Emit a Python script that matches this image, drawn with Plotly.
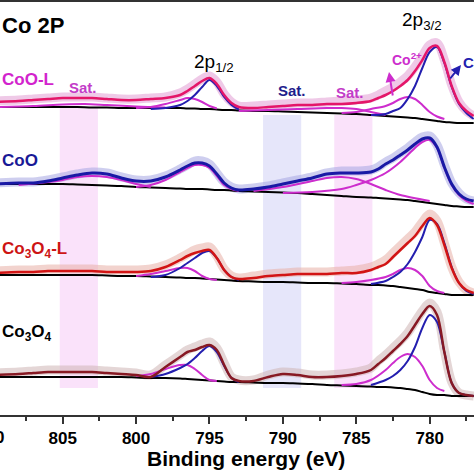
import plotly.graph_objects as go

# ---------------- data (binding energy in eV, intensity in arbitrary units) ----------------
energy = [809.5, 808, 807, 806, 805, 804, 803, 802, 801, 800, 799, 798, 797, 796.5, 796, 795.5,
          795, 794.5, 794, 793.5, 793, 792, 791, 790, 789, 788, 787, 786, 785, 784, 783.5, 783,
          782.5, 782, 781.5, 781, 780.5, 780, 779.5, 779, 778.5, 778, 777.5, 777]

# CoO-L
cool_raw = [314, 315, 316, 317, 318, 318, 318, 317, 316, 316, 317, 318, 322, 326, 331, 336, 339, 333, 321, 313,
            309, 309, 310, 311, 312, 312, 313, 314, 315, 317, 320, 324, 328, 333, 339, 348, 359, 370, 372, 355,
            330, 313, 304, 299]
cool_fit = [313, 314, 315, 316, 317, 317, 317, 316, 315, 315, 316, 317, 320, 324, 329, 334, 337, 331, 320, 312,
            308, 307, 308, 309, 310, 310, 311, 311, 312, 314, 317, 320, 324, 329, 335, 344, 355, 367, 369, 353,
            329, 312, 304, 299]
cool_bg = [308, 308, 308, 308, 308, 308, 307.5, 307.5, 307, 307, 307, 307, 307, 306.5, 306.5, 306, 306, 305.5,
           305, 305, 304.5, 304, 304, 303.5, 303, 302.5, 302, 301.5, 301, 300, 299.5, 299, 298.5, 298, 297.5,
           297, 296, 295, 294, 293, 292.5, 292, 292, 292]

# CoO
coo_raw = [232, 233, 233, 235, 238, 241, 243, 242, 238, 235, 235, 239, 246, 250, 254, 254, 251, 242, 233, 228,
           226, 227, 229, 232, 235, 238, 242, 244, 244, 245, 248, 253, 257, 262, 267, 273, 278, 279, 270, 250,
           232, 222, 216, 214]
coo_fit = [231, 232, 232, 234, 237, 240, 242, 241, 237, 234, 234, 238, 245, 249, 252, 252, 249, 241, 232, 227,
           225, 226, 228, 231, 234, 237, 241, 242, 242, 243, 246, 251, 255, 260, 265, 271, 276, 277, 268, 248,
           231, 221, 216, 214]
coo_bg = [231, 231, 231, 231, 231, 230.5, 230, 229.5, 229, 228, 227.5, 227, 226.5, 226, 226, 226, 225.5, 225,
          225, 224.5, 224, 223.5, 223, 222.5, 222, 221, 220, 219, 218, 217.5, 217, 216.5, 216, 215.5, 215, 214,
          213, 212, 211, 210, 209, 208.5, 208, 208]

# Co3O4-L
c34l_raw = [144, 145, 145, 146, 146, 146, 146, 145, 145, 145, 146, 150, 157, 161, 165, 167, 168, 159, 146, 139,
            137, 139, 141, 142, 143, 143, 143, 144, 145, 148, 151, 155, 162, 169, 176, 183, 193, 201, 194, 172,
            148, 133, 125, 122]
c34l_fit = [142, 143, 143, 144, 144, 144, 144, 143, 143, 143, 144, 148, 155, 159, 162, 164, 165, 157, 145, 138,
            136, 137, 139, 140, 141, 141, 141, 142, 142, 145, 148, 151, 158, 165, 172, 179, 189, 197, 190, 170,
            147, 132, 125, 122]
c34l_bg = [140, 140, 140, 140, 140, 140, 140, 139.5, 139, 139, 138.5, 138, 137.5, 137, 137, 136.5, 136, 135.5,
           135, 134.5, 134, 133.5, 133, 133, 132.5, 132, 132, 131.5, 131, 130, 130, 129.5, 129, 128, 127, 126,
           125, 123, 122, 121, 120, 120, 120, 120]

# Co3O4
c34_raw = [42, 43, 44, 45, 45, 45, 45, 44, 43, 42, 40, 50, 60, 65, 68, 71, 73, 67, 52, 38,
           35, 35, 40, 43, 42, 40, 40, 41, 43, 47, 54, 60, 67, 74, 82, 93, 104, 112, 103, 65,
           33, 22, 20, 19]
c34_fit = [40, 41, 42, 43, 43, 43, 43, 42, 41, 40, 38, 48, 58, 63, 65, 68, 70, 65, 50, 37,
           34, 34, 38, 41, 40, 38, 38, 39, 41, 45, 51, 57, 64, 71, 79, 90, 101, 109, 100, 63,
           32, 22, 20, 19]
c34_bg = [38, 38, 38, 38, 38, 38, 38, 38, 38, 37.5, 37, 37, 36.5, 36, 35.5, 35, 34.5, 34, 33.5, 33, 33, 32.5,
          32, 32, 31.5, 31, 30, 29.5, 29, 28.5, 28, 28, 27.5, 27, 26, 25, 23, 21, 20, 20, 19, 19, 19, 19]

# fitted components: Co3+ (blue) and Co2+ (magenta)
e_p12_co3 = [799, 798, 797, 796.5, 796, 795.5, 795, 794.5, 794, 793.5, 793]
e_p12_co2 = [800, 799, 798, 797, 796.5, 796, 795.5, 795, 794.5]
e_p32_co3 = [784, 783, 782.5, 782, 781.5, 781, 780.5, 780, 779.5, 779, 778.5, 778, 777.5, 777]
e_p32_co2 = [786, 785, 784, 783, 782.5, 782, 781.5, 781, 780.5, 780, 779.5, 779]

cool_co3_p12 = [306, 307, 310, 314, 320, 328, 335, 329, 318, 310, 305.5]
cool_co2_p12 = [307, 308, 311, 315, 317, 316, 313, 309, 306.5]
cool_co3_p32 = [300, 301, 304, 307, 316, 329, 347, 363, 368, 352, 328, 311, 302, 296]
cool_co2_p32 = [302, 303, 306, 309, 312, 316, 318, 316, 310, 303, 298.5, 296]
e_cool_sat = [809.5, 807, 805, 803.5, 802, 800, 798]
cool_sat_a = [308, 309, 310.5, 311, 310, 308.5, 307.5]
e_cool_sat2 = [793, 791, 789, 787, 786, 785, 784, 783]
cool_sat_b = [304, 305, 306, 307, 307, 306, 303, 300]

e_coo_p12 = [800, 799, 798, 797, 796.5, 796, 795.5, 795, 794.5, 794, 793.5, 793]
coo_co2_p12 = [228, 230, 235, 243, 247, 250, 250, 247, 239, 230, 226, 224]
e_coo_sat1 = [808, 806, 805, 804, 803, 802, 801, 800, 799]
coo_sat1 = [230, 233, 235, 238, 239, 238, 235, 231, 228]
e_coo_p32 = [790, 788, 786, 785, 784, 783, 782, 781, 780.5, 780, 779.5, 779, 778.5, 778, 777.5, 777]
coo_co2_p32 = [222, 223, 226, 230, 235, 242, 253, 267, 273, 275, 267, 247, 230, 220, 214, 211]
e_coo_sat2 = [792, 790, 788, 787, 786, 785, 784, 783, 782, 780]
coo_sat2 = [224, 228, 234, 237, 238, 236, 231, 225, 220, 214]

c34l_co3_p12 = [138, 140, 147, 152, 157, 162, 164, 157, 145, 138, 135]
c34l_co2_p12 = [139, 141, 144, 147, 147, 144, 139, 136, 135]
c34l_co3_p32 = [131, 134, 138, 143, 151, 163, 178, 195, 191, 172, 148, 132, 124, 121]
c34l_co2_p32 = [132, 133, 135, 138, 141, 145, 147, 145, 139, 129, 124, 122]

c34_co3_p12 = [38, 41, 47, 51, 57, 64, 69, 63, 49, 37, 33]
c34_co2_p12 = [39, 41, 46, 50, 50, 46, 40, 35, 34]
c34_co3_p32 = [30, 35, 39, 45, 54, 68, 87, 100, 93, 63, 32, 22, 20, 19]
c34_co2_p32 = [30, 31, 35, 45, 52, 58, 61, 58, 49, 35, 27, 24]

# satellite regions (eV)
sat_bands = [(805.2, 802.6), (791.35, 788.75), (786.5, 783.9)]
band_colors = ["rgb(250,226,250)", "rgb(230,230,250)", "rgb(250,226,250)"]
band_tops = [307, 300, 300]

x_ticks = [805, 800, 795, 790, 785, 780]

# ---------------- colours ----------------
MAG = "rgb(205,45,205)"
BLU = "rgb(35,30,175)"

fig = go.Figure()


def line(x, y, color, width, smooth=0.9):
    fig.add_trace(go.Scatter(x=x, y=y, mode="lines",
                             line=dict(color=color, width=width, shape="spline", smoothing=smooth),
                             hoverinfo="skip", showlegend=False))


# raw data bands
line(energy, cool_raw, "rgba(228,165,215,0.6)", 9)
line(energy, coo_raw, "rgba(165,165,225,0.55)", 9)
line(energy, c34l_raw, "rgba(232,175,165,0.55)", 9)
line(energy, c34_raw, "rgba(205,180,180,0.55)", 9)

# backgrounds
for bg in (cool_bg, coo_bg, c34l_bg, c34_bg):
    line(energy, bg, "black", 2)

# components
line(e_cool_sat, cool_sat_a, MAG, 2)
line(e_cool_sat2, cool_sat_b, MAG, 2)
line(e_p12_co2, cool_co2_p12, MAG, 2)
line(e_p32_co2, cool_co2_p32, MAG, 2)
line(e_p12_co3, cool_co3_p12, BLU, 2)
line(e_p32_co3, cool_co3_p32, BLU, 2)

line(e_coo_sat1, coo_sat1, MAG, 2)
line(e_coo_sat2, coo_sat2, MAG, 2)
line(e_coo_p12, coo_co2_p12, MAG, 2)
line(e_coo_p32, coo_co2_p32, MAG, 2)

line(e_p12_co2, c34l_co2_p12, MAG, 2)
line(e_p32_co2, c34l_co2_p32, MAG, 2)
line(e_p12_co3, c34l_co3_p12, BLU, 2)
line(e_p32_co3, c34l_co3_p32, BLU, 2)

line(e_p12_co2, c34_co2_p12, MAG, 2)
line(e_p32_co2, c34_co2_p32, MAG, 2)
line(e_p12_co3, c34_co3_p12, BLU, 2)
line(e_p32_co3, c34_co3_p32, BLU, 2)

# envelopes
line(energy, cool_fit, "rgb(228,22,105)", 2.5)
line(energy, coo_fit, "rgb(25,25,165)", 3)
line(energy, c34l_fit, "rgb(210,20,20)", 2.5)
line(energy, c34_fit, "rgb(135,25,35)", 2.5)

shapes = []
for (e1, e2), col, top in zip(sat_bands, band_colors, band_tops):
    shapes.append(dict(type="rect", xref="x", yref="y", x0=e1, x1=e2, y0=27, y1=top,
                       fillcolor=col, line=dict(width=0), layer="below"))

FONT = "Arial, Liberation Sans, sans-serif"


def txt(s, x, y, size, color="black", bold=True, xanchor="center"):
    return dict(text=s, x=x, y=y, xref="paper", yref="paper", showarrow=False, xanchor=xanchor,
                yanchor="middle", font=dict(family=FONT, size=size, color=color,
                                            weight="bold" if bold else "normal"))


H = 413.0


def py(p):
    return (415 - p) / H


def px(p):
    return p / 474.0


annotations = [
    txt("Co 2P", 0, py(25), 22, xanchor="left"),
    txt("CoO-L", 0, py(80), 17, "rgb(210,35,205)", xanchor="left"),
    txt("CoO", 0, py(160), 17, "rgb(25,25,150)", xanchor="left"),
    txt("Co<sub>3</sub>O<sub>4</sub>-L", 0, py(250), 17, "rgb(205,20,20)", xanchor="left"),
    txt("Co<sub>3</sub>O<sub>4</sub>", 0, py(333), 17, "black", xanchor="left"),
    txt("2p<sub>1/2</sub>", px(214), py(63), 19, bold=False),
    txt("2p<sub>3/2</sub>", px(422), py(21), 19, bold=False),
    txt("Sat.", px(83), py(88), 15, "rgb(195,60,200)"),
    txt("Sat.", px(292), py(90), 15, "rgb(30,30,140)"),
    txt("Sat.", px(350), py(92), 15, "rgb(195,60,200)"),
    txt("Co<sup>2+</sup>", px(407), py(59), 14, "rgb(205,45,205)"),
    txt("Co<sup>3+</sup>", px(461), py(62), 15, BLU, xanchor="left"),
    txt("810", px(-10), py(437), 17),
    txt("Binding energy (eV)", px(246), py(458), 21),
    dict(x=px(389), y=py(72), xref="paper", yref="paper", text="", showarrow=True, ax=4, ay=25,
         arrowhead=2, arrowsize=1, arrowwidth=2, arrowcolor="rgb(205,45,205)"),
    dict(x=px(461), y=py(65), xref="paper", yref="paper", text="", showarrow=True, ax=-12, ay=15,
         arrowhead=2, arrowsize=1, arrowwidth=2, arrowcolor=BLU),
]

fig.update_layout(
    width=474, height=474,
    margin=dict(l=0, r=0, t=2, b=59),
    paper_bgcolor="white", plot_bgcolor="white",
    shapes=shapes, annotations=annotations,
    xaxis=dict(range=[809.27, 776.98], tickvals=x_ticks, ticks="outside", ticklen=7, tickwidth=2,
               tickcolor="#333", showline=True, linecolor="#333", linewidth=2, mirror=True,
               showgrid=False, zeroline=False,
               tickfont=dict(family=FONT, size=17, color="black", weight="bold"),
               minor=dict(dtick=2.5, ticks="outside", ticklen=4, tickwidth=2, tickcolor="#333", showgrid=False)),
    yaxis=dict(range=[0, H], visible=False, showgrid=False, zeroline=False),
)

fig.write_html("out.html")
